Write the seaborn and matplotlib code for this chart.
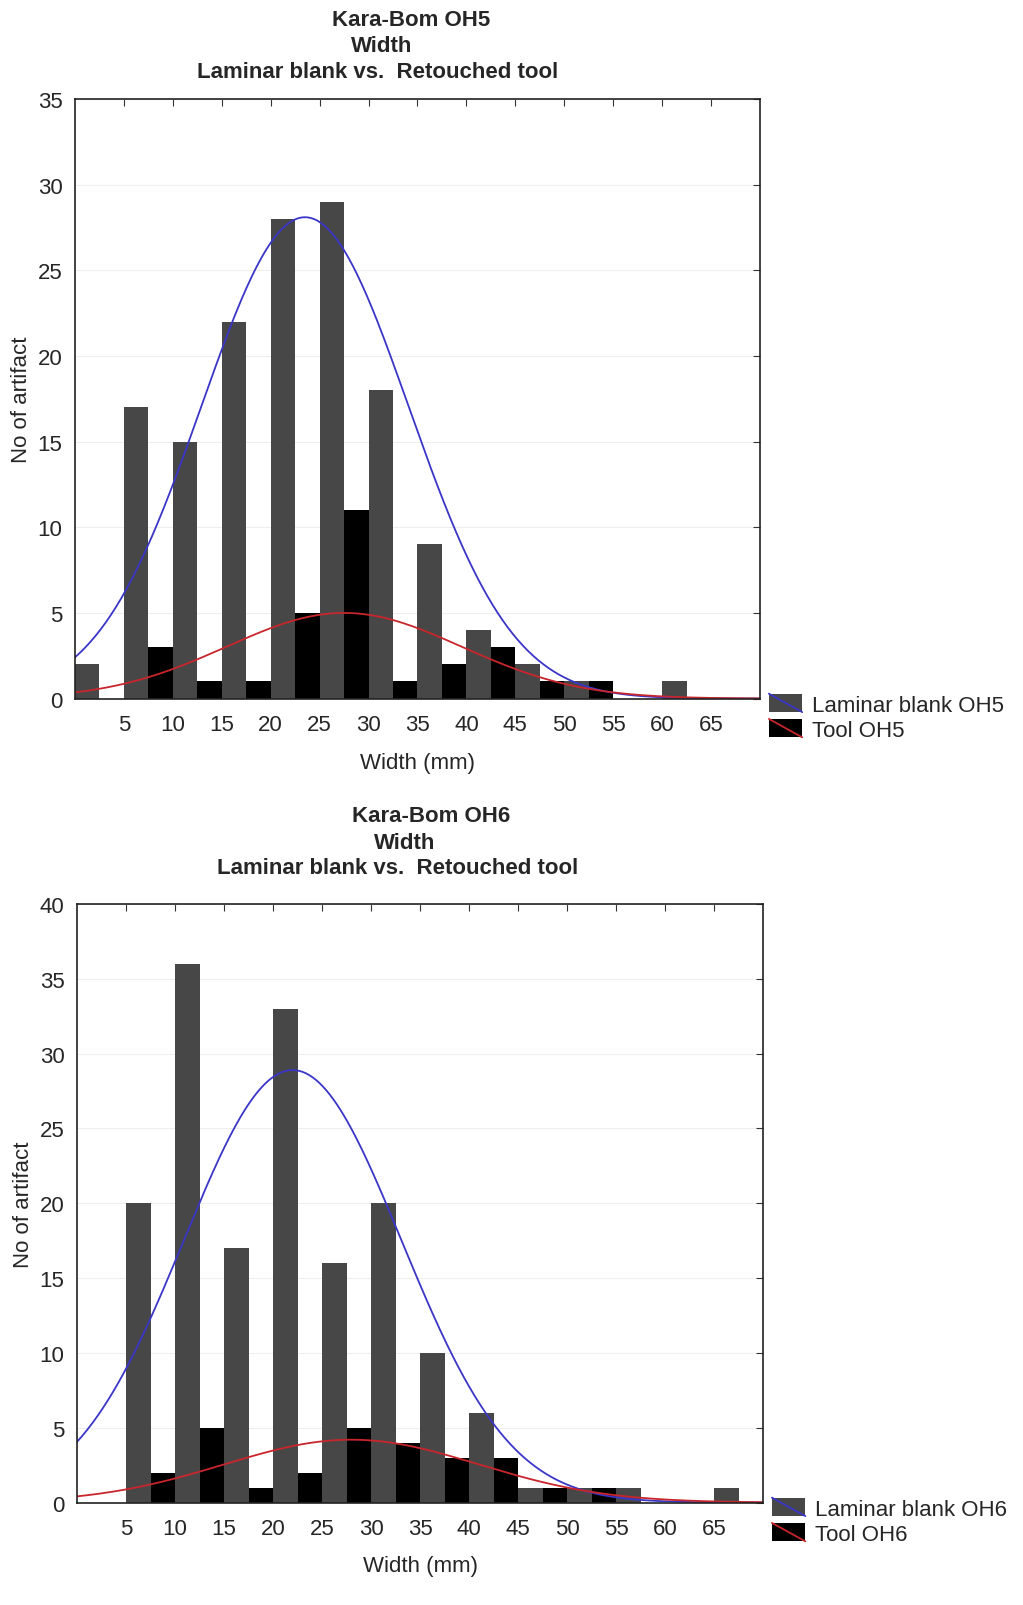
import numpy as np
import pandas as pd
import matplotlib
matplotlib.use('Agg')
import matplotlib.pyplot as plt
import seaborn as sns
from matplotlib.patches import Patch, Rectangle
from matplotlib.lines import Line2D
from matplotlib.legend_handler import HandlerBase

### Data
bin_starts = [0, 5, 10, 15, 20, 25, 30, 35, 40, 45, 50, 55, 60, 65]
x_ticks = [5, 10, 15, 20, 25, 30, 35, 40, 45, 50, 55, 60, 65]

blank_oh5 = [2, 17, 15, 22, 28, 29, 18, 9, 4, 2, 1, 0, 1, 0]
tool_oh5 = [0, 3, 1, 1, 5, 11, 1, 2, 3, 1, 1, 0, 0, 0]
blank_oh6 = [0, 20, 36, 17, 33, 16, 20, 10, 6, 1, 1, 1, 0, 1]
tool_oh6 = [0, 2, 5, 1, 2, 5, 4, 3, 3, 1, 1, 0, 0, 0]

# fitted normal curves: (mean, sd, peak height)
fit_blank_oh5 = (23.5, 10.6, 28.1)
fit_tool_oh5 = (27.5, 12.0, 5.0)
fit_blank_oh6 = (22.0, 11.1, 28.9)
fit_tool_oh6 = (28.0, 13.0, 4.2)

### Styles
col_blank = '#474747'
col_tool = '#000000'
col_blue = '#3a36c8'
col_red = '#c8262c'
fs = 16

sns.set_style('white')
plt.rcParams['font.family'] = ['Liberation Sans', 'DejaVu Sans']


class PatchLineHandler(HandlerBase):
    """legend key: filled box with a diagonal line over it"""
    def __init__(self, line_color):
        super().__init__()
        self.line_color = line_color

    def create_artists(self, legend, orig_handle, xdescent, ydescent,
                       width, height, fontsize, trans):
        rect = Rectangle((-xdescent, -ydescent), width, height,
                         facecolor=orig_handle.get_facecolor(),
                         edgecolor='none', transform=trans)
        line = Line2D([-xdescent, -xdescent + width],
                      [-ydescent + height, -ydescent],
                      color=self.line_color, lw=1.3, transform=trans)
        return [rect, line]


def draw_panel(ax, blank, tool, fit_blank, fit_tool, ymax, site, title_x, title_y):
    df = pd.DataFrame({
        'pos': [b + 1.25 for b in bin_starts] + [b + 3.75 for b in bin_starts],
        'count': blank + tool,
        'group': ['blank'] * len(bin_starts) + ['tool'] * len(bin_starts),
    })
    sns.histplot(data=df, x='pos', weights='count', hue='group',
                 binwidth=2.5, binrange=(0, 70), multiple='layer',
                 palette={'blank': col_blank, 'tool': col_tool},
                 alpha=1, linewidth=0, legend=False, ax=ax)

    xs = np.linspace(0, 70, 400)
    for (mu, sd, peak), c in [(fit_blank, col_blue), (fit_tool, col_red)]:
        ys = peak * np.exp(-0.5 * ((xs - mu) / sd) ** 2)
        sns.lineplot(x=xs, y=ys, color=c, lw=1.3, ax=ax)

    ax.set_xlim(0, 70)
    ax.set_ylim(0, ymax)
    ax.set_xticks(x_ticks)
    ax.set_yticks(np.arange(0, ymax + 1, 5))
    ax.tick_params(direction='in', top=True, right=True, length=5,
                   labelsize=fs, color='#333333')
    ax.tick_params(axis='x', pad=11)
    ax.tick_params(axis='y', pad=9)
    ax.yaxis.grid(True, color='#eeeeee', lw=0.8)
    ax.set_axisbelow(True)
    for s in ax.spines.values():
        s.set_color('#222222')
        s.set_linewidth(1.2)
    ax.set_xlabel('Width (mm)', fontsize=fs, labelpad=12)
    ax.set_ylabel('No of artifact', fontsize=fs, labelpad=4)

    lines = [f'Kara-Bom {site}', 'Width', 'Laminar blank vs.  Retouched tool']
    for txt, tx, ty in zip(lines, title_x, title_y):
        ax.text(tx, ty, txt, transform=ax.transAxes,
                ha='center', va='center', fontsize=fs, fontweight='bold')

    h_blank = Patch(facecolor=col_blank)
    h_tool = Patch(facecolor=col_tool)
    ax.legend([h_blank, h_tool], [f'Laminar blank {site}', f'Tool {site}'],
              handler_map={h_blank: PatchLineHandler(col_blue),
                           h_tool: PatchLineHandler(col_red)},
              loc='upper left', bbox_to_anchor=(1.0, 0.023),
              frameon=False, fontsize=fs, handlelength=1.5,
              handleheight=0.9, labelspacing=0.15, handletextpad=0.45,
              borderaxespad=0, borderpad=0.4)


fig = plt.figure(figsize=(10.23, 16.06), dpi=100)
ax1 = fig.add_axes([0.0733, 0.5644, 0.6696, 0.3733])
ax2 = fig.add_axes([0.0753, 0.0638, 0.6706, 0.3727])

draw_panel(ax1, blank_oh5, tool_oh5, fit_blank_oh5, fit_tool_oh5, 35, 'OH5',
           [0.49, 0.448, 0.442], [1.1327, 1.0885, 1.0467])
draw_panel(ax2, blank_oh6, tool_oh6, fit_blank_oh6, fit_tool_oh6, 40, 'OH6',
           [0.516, 0.478, 0.468], [1.147, 1.102, 1.061])

fig.savefig('out.png', dpi=100)
